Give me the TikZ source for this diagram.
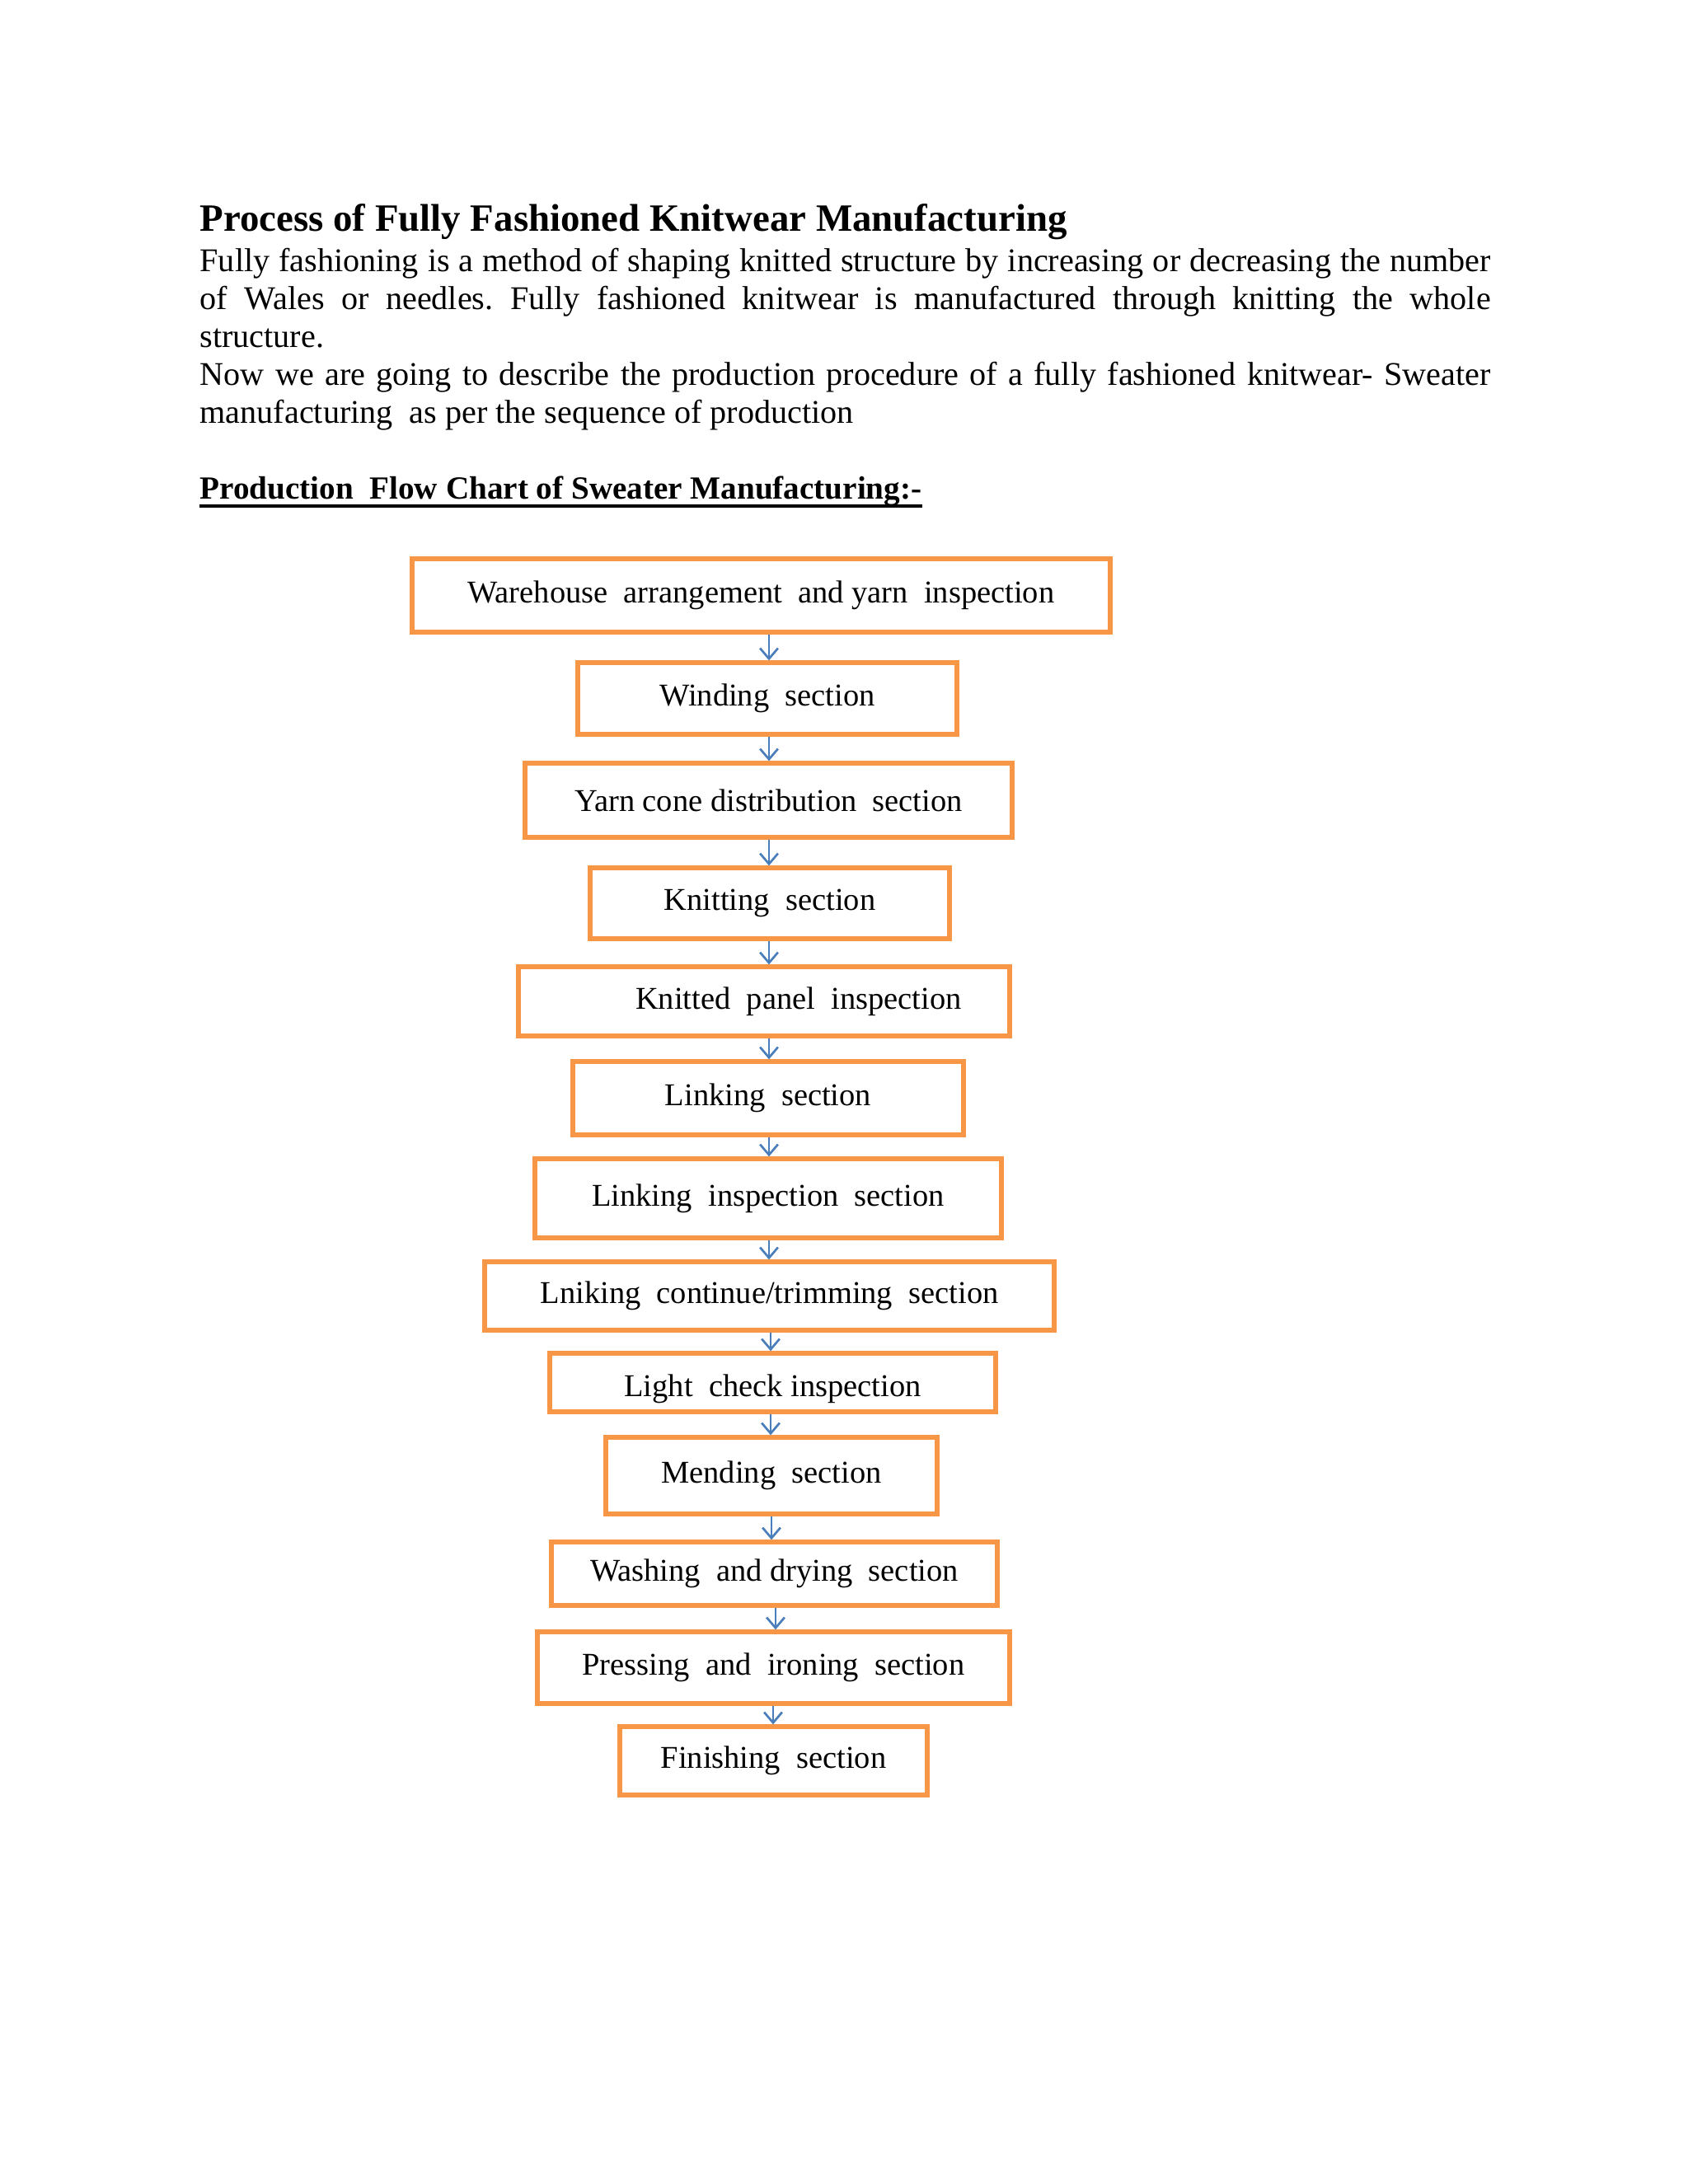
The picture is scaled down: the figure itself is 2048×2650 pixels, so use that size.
\documentclass[tikz,border=0pt]{standalone}
\usepackage{fontspec}
\setmainfont{Liberation Serif}
\usetikzlibrary{arrows.meta}
\definecolor{boxorange}{HTML}{F79646}
\definecolor{arrblue}{HTML}{4A7EBB}
\tikzset{
  stepbox/.style={draw=boxorange, line width=1.6pt, inner sep=0pt, fill=white,
    font={\fontsize{11.5}{13}\selectfont}},
  flowarrow/.style={draw=arrblue, line width=0.8pt, -{Straight Barb[length=3.8pt,width=6.5pt]}},
}
\newcommand\flowbox[6]{%
  \node[stepbox, minimum width={(#4-#2)*0.298828pt}, minimum height={(#5-#3)*0.298828pt}]
    (#1) at ({(#2+#4)/2},{(#3+#5)/2}) {#6};}
\begin{document}
\frenchspacing
\begin{tikzpicture}[x=0.298828pt, y=-0.298828pt]
\useasboundingbox (0,0) rectangle (2048,2650);
\fill[white] (0,0) rectangle (2048,2650);

% heading
\node[anchor=base west, inner sep=0pt, font={\fontsize{14}{16}\selectfont\bfseries}] (title) at (242,280)
  {Process of Fully Fashioned Knitwear Manufacturing};

\node[anchor=base west, inner sep=0pt, text width=468pt, align=justify,
      font={\fontsize{12}{13.8}\selectfont\frenchspacing}] (body) at (242,329)
  {Fully fashioning is a method of shaping knitted structure by increasing or decreasing the number\linebreak
   of Wales or needles. Fully fashioned knitwear is manufactured through knitting the whole\linebreak
   structure.\\
   Now we are going to describe the production procedure of a fully fashioned knitwear- Sweater\linebreak
   manufacturing\ \ as per the sequence of production};

\node[anchor=base west, inner sep=0pt, font={\fontsize{11.7}{14}\selectfont\bfseries}] (sub) at (242,605)
  {Production\ \ Flow Chart of Sweater Manufacturing:-};
\draw[line width=1.3pt] ([yshift=-2.6pt]sub.base west) -- ([yshift=-2.6pt]sub.base east);

% boxes
\flowbox{b1}{500}{678}{1347}{767}{Warehouse\ \ arrangement\ \ and yarn\ \ inspection}
\flowbox{b2}{701}{804}{1161}{891}{Winding\ \ section}
\flowbox{b3}{637}{926}{1228}{1016}{Yarn cone distribution\ \ section}
\flowbox{b4}{716}{1053}{1152}{1139}{Knitting\ \ section}
\flowbox{b5}{629}{1173}{1225}{1257}{\hspace*{25pt}Knitted\ \ panel\ \ inspection}
\flowbox{b6}{695}{1288}{1169}{1377}{Linking\ \ section}
\flowbox{b7}{649}{1406}{1215}{1502}{Linking\ \ inspection\ \ section}
\flowbox{b8}{588}{1531}{1279}{1614}{Lniking\ \ continue/trimming\ \ section}
\flowbox{b9}{667}{1642}{1208}{1713}{\raisebox{-5.2pt}[0pt][0pt]{Light\ \ check\ inspection}}
\flowbox{b10}{735}{1744}{1137}{1837}{Mending\ \ section}
\flowbox{b11}{669}{1871}{1210}{1948}{Washing\ \ and drying\ \ section}
\flowbox{b12}{652}{1980}{1225}{2067}{Pressing\ \ and\ \ ironing\ \ section}
\flowbox{b13}{752}{2095}{1125}{2178}{Finishing\ \ section}

% arrows
\draw[flowarrow] (b1.south -| 933,0) -- (b2.north -| 933,0);
\draw[flowarrow] (b2.south -| 933,0) -- (b3.north -| 933,0);
\draw[flowarrow] (b3.south -| 933,0) -- (b4.north -| 933,0);
\draw[flowarrow] (b4.south -| 933,0) -- (b5.north -| 933,0);
\draw[flowarrow] (b5.south -| 933,0) -- (b6.north -| 933,0);
\draw[flowarrow] (b6.south -| 933,0) -- (b7.north -| 933,0);
\draw[flowarrow] (b7.south -| 933,0) -- (b8.north -| 933,0);
\draw[flowarrow] (b8.south -| 935,0) -- (b9.north -| 935,0);
\draw[flowarrow] (b9.south -| 935,0) -- (b10.north -| 935,0);
\draw[flowarrow] (b10.south -| 936,0) -- (b11.north -| 936,0);
\draw[flowarrow] (b11.south -| 941,0) -- (b12.north -| 941,0);
\draw[flowarrow] (b12.south -| 938,0) -- (b13.north -| 938,0);
\end{tikzpicture}
\end{document}
